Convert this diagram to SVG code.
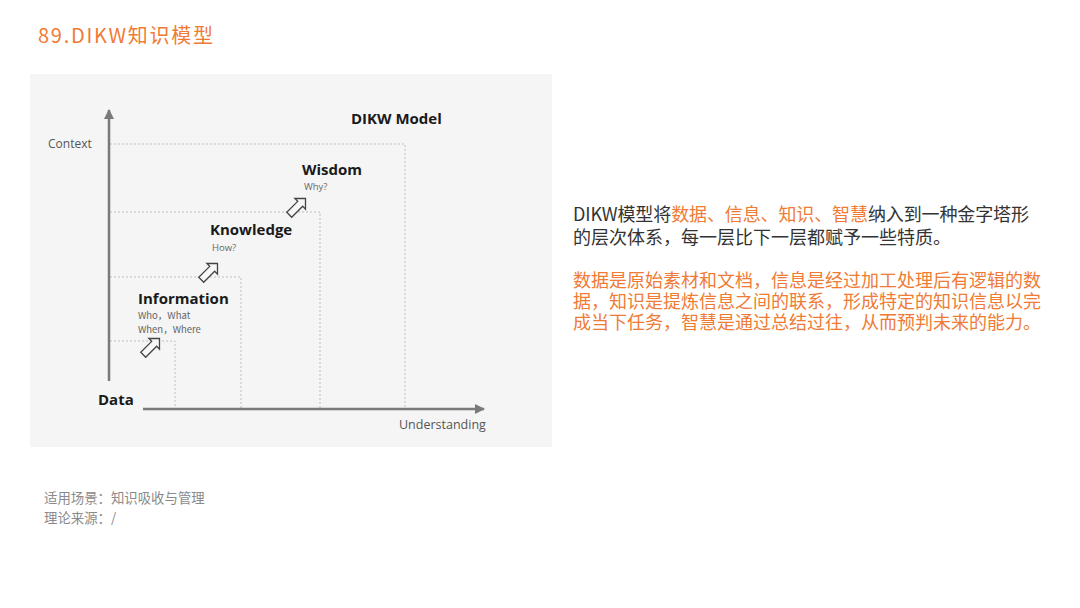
<svg xmlns="http://www.w3.org/2000/svg" width="1080" height="608" viewBox="0 0 1080 608">
<defs>
<style>
.cjk{font-family:"Noto Sans CJK SC","Noto Sans",sans-serif}
.lat{font-family:"Open Sans","Noto Sans",sans-serif}
.bold{font-weight:700;fill:#1a1a1a;font-size:15px}
.small{fill:#666;font-size:9.5px}
.axis{stroke:#7a7a7a;stroke-width:2.5;fill:none}
.dot{stroke:#bdbdbd;stroke-width:1;stroke-dasharray:2 2;fill:none}
.blk{stroke:#444;stroke-width:1.3;fill:#f7f7f7;stroke-linejoin:miter}
.or{fill:#EF7B35}
.dk{fill:#333}
</style>
<marker id="ah" viewBox="0 0 10 10" refX="9" refY="5" markerWidth="4" markerHeight="4" orient="auto" markerUnits="strokeWidth">
<path d="M0,0 L10,5 L0,10 Z" fill="#7a7a7a"/>
</marker>
<path id="barrow" d="M0,-12 L7.5,-4.5 L3.5,-4.5 L3.5,11 L-3.5,11 L-3.5,-4.5 L-7.5,-4.5 Z"/>
</defs>
<rect width="1080" height="608" fill="#ffffff"/>
<text id="title" x="38" y="43" class="cjk" font-size="20" fill="#EF7B35" textLength="175" lengthAdjust="spacing">89.DIKW知识模型</text>
<g id="panel">
<rect x="30" y="74" width="522" height="373" fill="#f5f5f5"/>
</g>
<g id="connectors">
<path class="dot" d="M110,144 H405 V408"/>
<path class="dot" d="M110,212 H320 V408"/>
<path class="dot" d="M110,277 H241 V408"/>
<path class="dot" d="M110,341 H175 V408"/>
<line class="axis" x1="109" y1="381" x2="109" y2="110" marker-end="url(#ah)"/>
<line class="axis" x1="143" y1="409" x2="484" y2="409" marker-end="url(#ah)"/>
<use href="#barrow" class="blk" transform="translate(151,347) rotate(45)"/>
<use href="#barrow" class="blk" transform="translate(209,272) rotate(45)"/>
<use href="#barrow" class="blk" transform="translate(297,207) rotate(45)"/>
</g>
<g id="chart-title"><text x="351" y="124" class="lat bold">DIKW Model</text></g>
<g id="context"><text x="48" y="148" class="lat" font-size="12" fill="#555">Context</text></g>
<g id="understanding"><text x="399" y="429" class="lat" font-size="12.5" fill="#555">Understanding</text></g>
<g id="data"><text x="98" y="405" class="lat bold">Data</text></g>
<g id="information">
<text x="138" y="304" class="lat bold">Information</text>
<text x="138" y="319" class="cjk small">Who，What</text>
<text x="138" y="333" class="cjk small">When，Where</text>
</g>
<g id="knowledge">
<text x="210" y="235" class="lat bold">Knowledge</text>
<text x="212" y="251" class="lat small">How?</text>
</g>
<g id="wisdom">
<text x="302" y="175" class="lat bold">Wisdom</text>
<text x="304" y="190" class="lat small">Why?</text>
</g>
<g id="description" class="cjk" font-size="18">
<text x="573" y="221" class="dk" textLength="456" lengthAdjust="spacing">DIKW模型将<tspan class="or">数据、信息、知识、智慧</tspan>纳入到一种金字塔形</text>
<text x="573" y="244" class="dk">的层次体系，每一层比下一层都赋予一些特质。</text>
<text x="573" y="287" class="or">数据是原始素材和文档，信息是经过加工处理后有逻辑的数</text>
<text x="573" y="308" class="or">据，知识是提炼信息之间的联系，形成特定的知识信息以完</text>
<text x="573" y="329" class="or">成当下任务，智慧是通过总结过往，从而预判未来的能力。</text>
</g>
<g id="footer" class="cjk" font-size="13.4" fill="#8a8a8a">
<text x="44" y="503">适用场景：知识吸收与管理</text>
<text x="44" y="523">理论来源：/</text>
</g>
</svg>
